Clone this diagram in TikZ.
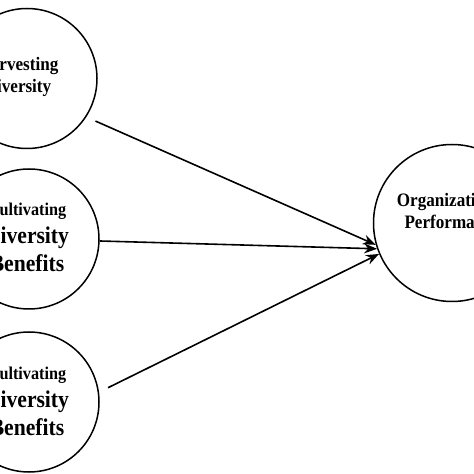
\documentclass[tikz,border=0pt]{standalone}
\usepackage{fontspec}
\setmainfont[FakeStretch=0.9]{Liberation Serif}
\usetikzlibrary{arrows.meta}
\begin{document}
\begin{tikzpicture}[x=1pt,y=1pt,
        factor/.style={draw, circle, line width=1.5pt, minimum size=140pt, inner sep=0pt},
        factortext/.style={align=center, font=\bfseries\fontsize{19}{21.5}\selectfont},
        link/.style={line width=1.6pt, -{Stealth[length=13pt,width=10pt]}}]
    \useasboundingbox (0,0) rectangle (474,474);
    \node[factor] (harv) at (27,395.5) {};
    \node[factor] (cultA) at (29,235) {};
    \node[factor] (cultB) at (29,72) {};
    \node[factor, minimum size=157pt] (org) at (452,251) {};
    \node[factortext] (harvtxt) at (18,397) {Harvesting\\Diversity};
    \node[factortext, font=\bfseries\fontsize{24}{28}\selectfont] (cultAtxt) at (27,237) {{\fontsize{18}{20}\selectfont Cultivating}\\Diversity\\Benefits};
    \node[factortext, font=\bfseries\fontsize{24}{28}\selectfont] (cultBtxt) at (27,73) {{\fontsize{18}{20}\selectfont Cultivating}\\Diversity\\Benefits};
    \node[factortext] (orgtxt) at (452,263) {Organizational\\Performance};
    \draw[link, shorten <=10pt] (harv.-33) -- (org.196);
    \draw[link] (cultA) -- (org.199);
    \draw[link, shorten <=10pt] (cultB.8) -- (org.203);
\end{tikzpicture}
\end{document}
